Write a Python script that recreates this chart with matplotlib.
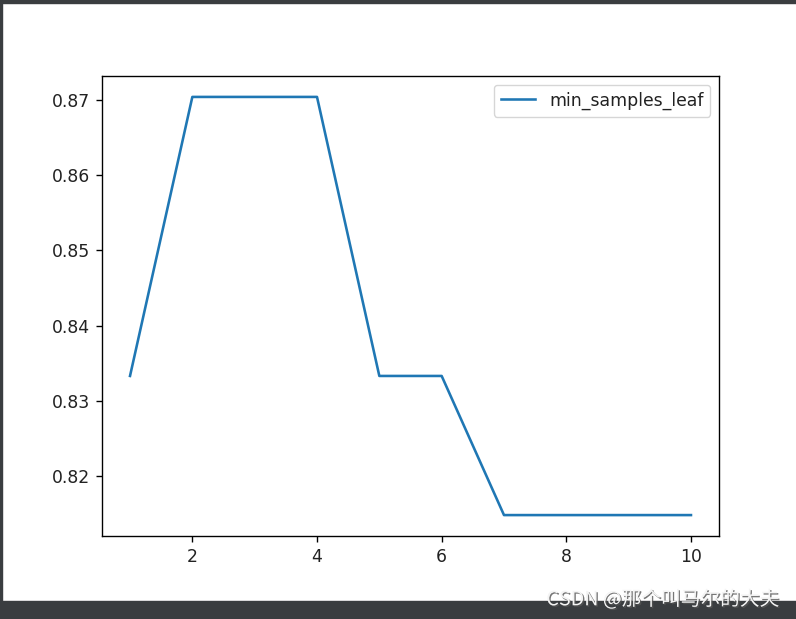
import matplotlib
matplotlib.use('Agg')
import matplotlib.pyplot as plt
import matplotlib.patheffects as pe
from matplotlib.patches import Rectangle

# min_samples_leaf 1..10 与得分
leaf = [1, 2, 3, 4, 5, 6, 7, 8, 9, 10]
score = [0.8333, 0.8704, 0.8704, 0.8704, 0.8333, 0.8333, 0.8148, 0.8148, 0.8148, 0.8148]
label = "min_samples_leaf"
watermark = "CSDN @那个叫马尔的大夫"

plt.rcParams['font.family'] = ['DejaVu Sans']
s = 1.24

fig = plt.figure(figsize=(7.96, 6.19), dpi=100)
ax = fig.add_axes([0.1281, 0.1341, 0.7752, 0.7431])
ax.plot(leaf, score, color="#1f77b4", lw=1.5 * s, label=label)
ax.set_xticks([2, 4, 6, 8, 10])
ax.set_yticks([0.82, 0.83, 0.84, 0.85, 0.86, 0.87])
ax.tick_params(labelsize=10 * s, length=3.5 * s, width=0.8 * s, pad=3.5 * s,
               labelcolor="#222222")
for sp in ax.spines.values():
    sp.set_linewidth(0.8 * s)
leg = ax.legend(loc="upper right", fontsize=10 * s)
for t in leg.get_texts():
    t.set_color("#222222")

# 截图的深色边框
dark = "#3a3d40"
fig.patches.append(Rectangle((0, 0), 1, 18 / 619, transform=fig.transFigure, color=dark, zorder=-1))
fig.patches.append(Rectangle((0, 1 - 3 / 619), 1, 3 / 619, transform=fig.transFigure, color=dark, zorder=-1))
fig.patches.append(Rectangle((0, 0), 2 / 796, 1, transform=fig.transFigure, color=dark, zorder=-1))

fig.text(0.979, 0.031, watermark, ha="right", va="center", fontsize=14.2, color="#f4f4f4",
         family=['Noto Sans CJK SC', 'DejaVu Sans'],
         path_effects=[pe.withSimplePatchShadow(offset=(1, -1), shadow_rgbFace="#555555", alpha=0.8)])

fig.savefig("out.png", dpi=100)
